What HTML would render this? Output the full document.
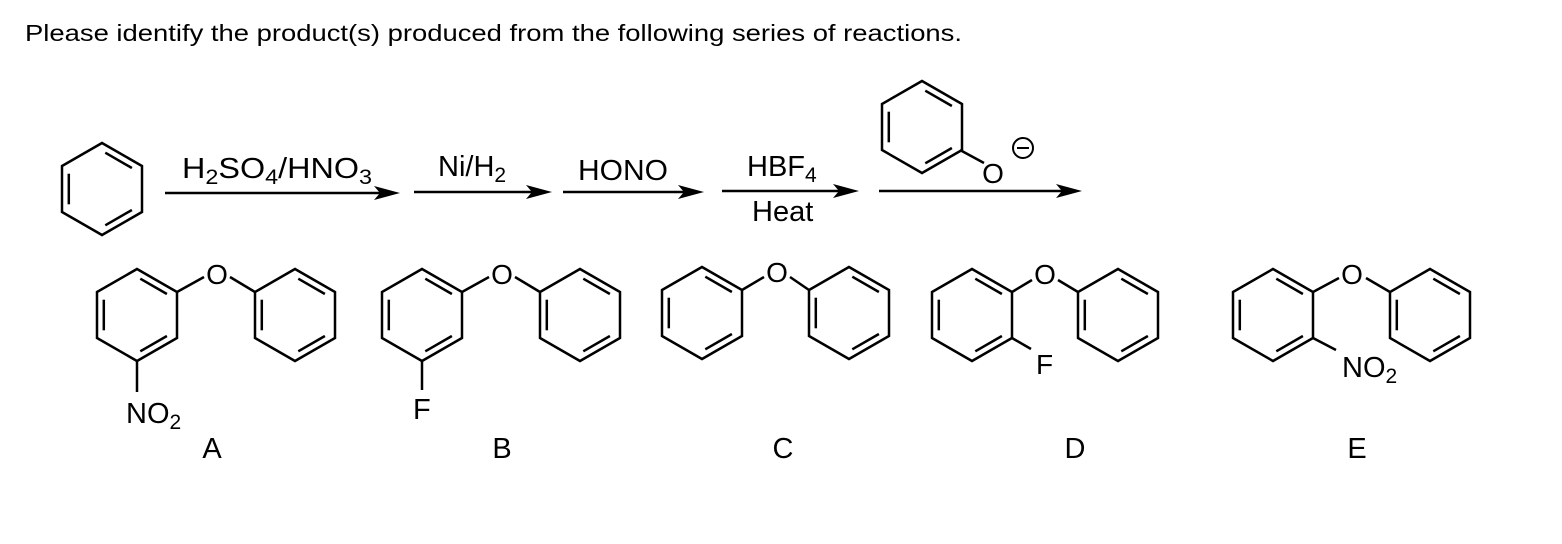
<!DOCTYPE html>
<html><head><meta charset="utf-8"><style>
html,body{margin:0;padding:0;background:#fff}
svg{display:block}
text{font-family:"Liberation Sans",Arial,sans-serif;fill:#000}
</style></head><body>
<svg width="1562" height="544" viewBox="0 0 1562 544" xmlns="http://www.w3.org/2000/svg">
<defs>
<g id="r" fill="none" stroke="#000" stroke-width="2.5" stroke-linejoin="miter">
<polygon points="0,-46 40,-23 40,23 0,46 -40,23 -40,-23"/>
<line x1="3.3" y1="-36.3" x2="29.9" y2="-21"/>
<line x1="-33.2" y1="-15.3" x2="-33.2" y2="15.3"/>
<line x1="29.9" y1="21" x2="3.3" y2="36.3"/>
</g>
<path id="ah" d="M0,0 L-26,-7 L-20,0 L-26,7 Z" fill="#000"/>
</defs>
<text x="25" y="41" font-size="23" textLength="937" lengthAdjust="spacingAndGlyphs">Please identify the product(s) produced from the following series of reactions.</text>

<use href="#r" x="102" y="189"/>

<g stroke="#000" stroke-width="2.6">
<line x1="165" y1="193" x2="380" y2="193"/>
<line x1="414" y1="192" x2="532" y2="192"/>
<line x1="563" y1="192" x2="684" y2="192"/>
<line x1="722" y1="191" x2="839" y2="191"/>
<line x1="879" y1="191" x2="1062" y2="191"/>
</g>
<use href="#ah" x="400" y="193"/>
<use href="#ah" x="552" y="192"/>
<use href="#ah" x="704" y="192"/>
<use href="#ah" x="859" y="191"/>
<use href="#ah" x="1082" y="191"/>

<text x="182" y="178" font-size="29" textLength="190" lengthAdjust="spacingAndGlyphs">H<tspan font-size="21" dy="6">2</tspan><tspan dy="-6">SO</tspan><tspan font-size="21" dy="6">4</tspan><tspan dy="-6">/HNO</tspan><tspan font-size="21" dy="6">3</tspan></text>
<text x="438" y="176" font-size="29">Ni/H<tspan font-size="21" dy="6">2</tspan></text>
<text x="578" y="180" font-size="29" textLength="90" lengthAdjust="spacingAndGlyphs">HONO</text>
<text x="747" y="176" font-size="29">HBF<tspan font-size="21" dy="6">4</tspan></text>
<text x="752" y="221" font-size="29">Heat</text>

<use href="#r" x="922" y="127"/>
<line x1="960" y1="150" x2="984" y2="163" stroke="#000" stroke-width="2.5"/>
<text x="993" y="183" font-size="28" text-anchor="middle">O</text>
<circle cx="1023" cy="148" r="10" fill="none" stroke="#000" stroke-width="2"/>
<line x1="1017" y1="148" x2="1029" y2="148" stroke="#000" stroke-width="2"/>

<g stroke="#000" stroke-width="2.5" fill="none">
<line x1="177" y1="292" x2="204" y2="277"/>
<line x1="230" y1="277" x2="255" y2="292"/>
<line x1="137" y1="361" x2="137" y2="392"/>
<line x1="462" y1="292" x2="489" y2="277"/>
<line x1="515" y1="277" x2="540" y2="292"/>
<line x1="422" y1="361" x2="422" y2="390"/>
<line x1="742" y1="290" x2="764" y2="277"/>
<line x1="790" y1="277" x2="809" y2="290"/>
<line x1="1012" y1="292" x2="1032" y2="280"/>
<line x1="1058" y1="280" x2="1078" y2="292"/>
<line x1="1012" y1="338" x2="1031" y2="349"/>
<line x1="1313" y1="292" x2="1339" y2="278"/>
<line x1="1366" y1="278" x2="1390" y2="292"/>
<line x1="1313" y1="338" x2="1336" y2="350"/>
</g>

<use href="#r" x="137" y="315"/>
<use href="#r" x="295" y="315"/>
<use href="#r" x="422" y="315"/>
<use href="#r" x="580" y="315"/>
<use href="#r" x="702" y="313"/>
<use href="#r" x="849" y="313"/>
<use href="#r" x="972" y="315"/>
<use href="#r" x="1118" y="315"/>
<use href="#r" x="1273" y="315"/>
<use href="#r" x="1430" y="315"/>

<g font-size="28" text-anchor="middle">
<text x="217" y="284">O</text>
<text x="502" y="284">O</text>
<text x="777" y="282">O</text>
<text x="1045" y="284">O</text>
<text x="1352" y="284">O</text>
</g>
<text x="126" y="423" font-size="29">NO<tspan font-size="21" dy="6">2</tspan></text>
<text x="413" y="419" font-size="29">F</text>
<text x="1036" y="374" font-size="28">F</text>
<text x="1342" y="377" font-size="29">NO<tspan font-size="21" dy="6">2</tspan></text>

<g font-size="29" text-anchor="middle">
<text x="212" y="458">A</text>
<text x="502" y="458">B</text>
<text x="783" y="458">C</text>
<text x="1075" y="458">D</text>
<text x="1357" y="458">E</text>
</g>
</svg>
</body></html>
